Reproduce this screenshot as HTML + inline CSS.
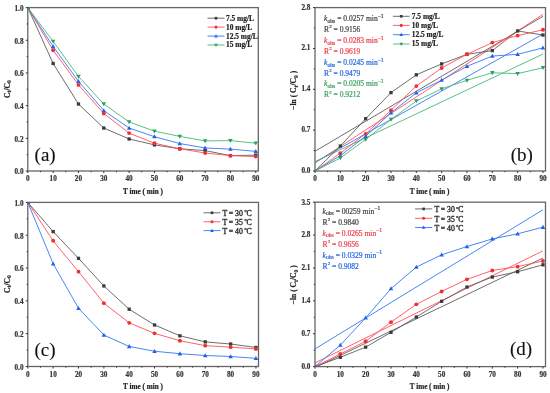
<!DOCTYPE html>
<html><head><meta charset="utf-8"><style>
html,body{margin:0;padding:0;background:#fff;width:550px;height:393px;overflow:hidden}
svg{display:block;filter:blur(0.45px)}
text{font-family:"Liberation Serif",serif}
.tl{font-size:7.2px;font-weight:bold;fill:#333;stroke:#333;stroke-width:0.2px}
.lg{font-size:7.4px;font-weight:bold;fill:#222;stroke:#222;stroke-width:0.2px}
.an{font-size:7.55px;stroke-width:0.22px}
.sup{font-size:5.6px}
.sub{font-size:5.6px}
.sup2{font-size:4.9px}
.lgt{font-weight:normal;font-size:7.8px;stroke-width:0.3px}
.deg{font-size:4.2px;font-weight:normal}
.pl{font-size:19px;fill:#111;stroke:#111;stroke-width:0.12px}
.at{font-size:7.2px;font-weight:bold;fill:#222;stroke:#222;stroke-width:0.2px}
.yt{font-size:7.6px}
</style></head><body>
<svg width="550" height="393" viewBox="0 0 550 393">
<rect width="550" height="393" fill="#fff"/>
<defs><clipPath id="cA"><rect x="27.80" y="7.60" width="230.50" height="163.40"/></clipPath><clipPath id="cB"><rect x="315.00" y="7.60" width="230.50" height="163.40"/></clipPath><clipPath id="cC"><rect x="27.80" y="202.40" width="230.70" height="164.10"/></clipPath><clipPath id="cD"><rect x="315.00" y="202.20" width="230.50" height="164.40"/></clipPath></defs>
<rect x="27.80" y="7.60" width="230.50" height="163.40" fill="none" stroke="#666666" stroke-width="1.3"/>
<line x1="27.80" y1="171.00" x2="27.80" y2="173.00" stroke="#333" stroke-width="1"/>
<line x1="40.46" y1="171.00" x2="40.46" y2="172.20" stroke="#333" stroke-width="1"/>
<line x1="53.13" y1="171.00" x2="53.13" y2="173.00" stroke="#333" stroke-width="1"/>
<line x1="65.79" y1="171.00" x2="65.79" y2="172.20" stroke="#333" stroke-width="1"/>
<line x1="78.46" y1="171.00" x2="78.46" y2="173.00" stroke="#333" stroke-width="1"/>
<line x1="91.12" y1="171.00" x2="91.12" y2="172.20" stroke="#333" stroke-width="1"/>
<line x1="103.79" y1="171.00" x2="103.79" y2="173.00" stroke="#333" stroke-width="1"/>
<line x1="116.45" y1="171.00" x2="116.45" y2="172.20" stroke="#333" stroke-width="1"/>
<line x1="129.12" y1="171.00" x2="129.12" y2="173.00" stroke="#333" stroke-width="1"/>
<line x1="141.78" y1="171.00" x2="141.78" y2="172.20" stroke="#333" stroke-width="1"/>
<line x1="154.45" y1="171.00" x2="154.45" y2="173.00" stroke="#333" stroke-width="1"/>
<line x1="167.11" y1="171.00" x2="167.11" y2="172.20" stroke="#333" stroke-width="1"/>
<line x1="179.78" y1="171.00" x2="179.78" y2="173.00" stroke="#333" stroke-width="1"/>
<line x1="192.44" y1="171.00" x2="192.44" y2="172.20" stroke="#333" stroke-width="1"/>
<line x1="205.11" y1="171.00" x2="205.11" y2="173.00" stroke="#333" stroke-width="1"/>
<line x1="217.77" y1="171.00" x2="217.77" y2="172.20" stroke="#333" stroke-width="1"/>
<line x1="230.44" y1="171.00" x2="230.44" y2="173.00" stroke="#333" stroke-width="1"/>
<line x1="243.10" y1="171.00" x2="243.10" y2="172.20" stroke="#333" stroke-width="1"/>
<line x1="255.77" y1="171.00" x2="255.77" y2="173.00" stroke="#333" stroke-width="1"/>
<text x="27.80" y="180.60" class="tl" text-anchor="middle">0</text>
<text x="53.13" y="180.60" class="tl" text-anchor="middle">10</text>
<text x="78.46" y="180.60" class="tl" text-anchor="middle">20</text>
<text x="103.79" y="180.60" class="tl" text-anchor="middle">30</text>
<text x="129.12" y="180.60" class="tl" text-anchor="middle">40</text>
<text x="154.45" y="180.60" class="tl" text-anchor="middle">50</text>
<text x="179.78" y="180.60" class="tl" text-anchor="middle">60</text>
<text x="205.11" y="180.60" class="tl" text-anchor="middle">70</text>
<text x="230.44" y="180.60" class="tl" text-anchor="middle">80</text>
<text x="255.77" y="180.60" class="tl" text-anchor="middle">90</text>
<line x1="27.80" y1="171.00" x2="25.80" y2="171.00" stroke="#333" stroke-width="1"/>
<text x="23.50" y="174.30" class="tl" text-anchor="end">0.0</text>
<line x1="27.80" y1="138.32" x2="25.80" y2="138.32" stroke="#333" stroke-width="1"/>
<text x="23.50" y="141.62" class="tl" text-anchor="end">0.2</text>
<line x1="27.80" y1="105.64" x2="25.80" y2="105.64" stroke="#333" stroke-width="1"/>
<text x="23.50" y="108.94" class="tl" text-anchor="end">0.4</text>
<line x1="27.80" y1="72.96" x2="25.80" y2="72.96" stroke="#333" stroke-width="1"/>
<text x="23.50" y="76.26" class="tl" text-anchor="end">0.6</text>
<line x1="27.80" y1="40.28" x2="25.80" y2="40.28" stroke="#333" stroke-width="1"/>
<text x="23.50" y="43.58" class="tl" text-anchor="end">0.8</text>
<line x1="27.80" y1="7.60" x2="25.80" y2="7.60" stroke="#333" stroke-width="1"/>
<text x="23.50" y="10.90" class="tl" text-anchor="end">1.0</text>
<line x1="27.80" y1="154.66" x2="26.60" y2="154.66" stroke="#333" stroke-width="1"/>
<line x1="27.80" y1="121.98" x2="26.60" y2="121.98" stroke="#333" stroke-width="1"/>
<line x1="27.80" y1="89.30" x2="26.60" y2="89.30" stroke="#333" stroke-width="1"/>
<line x1="27.80" y1="56.62" x2="26.60" y2="56.62" stroke="#333" stroke-width="1"/>
<line x1="27.80" y1="23.94" x2="26.60" y2="23.94" stroke="#333" stroke-width="1"/>
<rect x="27.80" y="202.40" width="230.70" height="164.10" fill="none" stroke="#666666" stroke-width="1.3"/>
<line x1="27.80" y1="366.50" x2="27.80" y2="368.50" stroke="#333" stroke-width="1"/>
<line x1="40.48" y1="366.50" x2="40.48" y2="367.70" stroke="#333" stroke-width="1"/>
<line x1="53.15" y1="366.50" x2="53.15" y2="368.50" stroke="#333" stroke-width="1"/>
<line x1="65.83" y1="366.50" x2="65.83" y2="367.70" stroke="#333" stroke-width="1"/>
<line x1="78.50" y1="366.50" x2="78.50" y2="368.50" stroke="#333" stroke-width="1"/>
<line x1="91.18" y1="366.50" x2="91.18" y2="367.70" stroke="#333" stroke-width="1"/>
<line x1="103.85" y1="366.50" x2="103.85" y2="368.50" stroke="#333" stroke-width="1"/>
<line x1="116.53" y1="366.50" x2="116.53" y2="367.70" stroke="#333" stroke-width="1"/>
<line x1="129.21" y1="366.50" x2="129.21" y2="368.50" stroke="#333" stroke-width="1"/>
<line x1="141.88" y1="366.50" x2="141.88" y2="367.70" stroke="#333" stroke-width="1"/>
<line x1="154.56" y1="366.50" x2="154.56" y2="368.50" stroke="#333" stroke-width="1"/>
<line x1="167.23" y1="366.50" x2="167.23" y2="367.70" stroke="#333" stroke-width="1"/>
<line x1="179.91" y1="366.50" x2="179.91" y2="368.50" stroke="#333" stroke-width="1"/>
<line x1="192.59" y1="366.50" x2="192.59" y2="367.70" stroke="#333" stroke-width="1"/>
<line x1="205.26" y1="366.50" x2="205.26" y2="368.50" stroke="#333" stroke-width="1"/>
<line x1="217.94" y1="366.50" x2="217.94" y2="367.70" stroke="#333" stroke-width="1"/>
<line x1="230.61" y1="366.50" x2="230.61" y2="368.50" stroke="#333" stroke-width="1"/>
<line x1="243.29" y1="366.50" x2="243.29" y2="367.70" stroke="#333" stroke-width="1"/>
<line x1="255.96" y1="366.50" x2="255.96" y2="368.50" stroke="#333" stroke-width="1"/>
<text x="27.80" y="376.60" class="tl" text-anchor="middle">0</text>
<text x="53.15" y="376.60" class="tl" text-anchor="middle">10</text>
<text x="78.50" y="376.60" class="tl" text-anchor="middle">20</text>
<text x="103.85" y="376.60" class="tl" text-anchor="middle">30</text>
<text x="129.21" y="376.60" class="tl" text-anchor="middle">40</text>
<text x="154.56" y="376.60" class="tl" text-anchor="middle">50</text>
<text x="179.91" y="376.60" class="tl" text-anchor="middle">60</text>
<text x="205.26" y="376.60" class="tl" text-anchor="middle">70</text>
<text x="230.61" y="376.60" class="tl" text-anchor="middle">80</text>
<text x="255.96" y="376.60" class="tl" text-anchor="middle">90</text>
<line x1="27.80" y1="366.50" x2="25.80" y2="366.50" stroke="#333" stroke-width="1"/>
<text x="23.50" y="369.80" class="tl" text-anchor="end">0.0</text>
<line x1="27.80" y1="333.68" x2="25.80" y2="333.68" stroke="#333" stroke-width="1"/>
<text x="23.50" y="336.98" class="tl" text-anchor="end">0.2</text>
<line x1="27.80" y1="300.86" x2="25.80" y2="300.86" stroke="#333" stroke-width="1"/>
<text x="23.50" y="304.16" class="tl" text-anchor="end">0.4</text>
<line x1="27.80" y1="268.04" x2="25.80" y2="268.04" stroke="#333" stroke-width="1"/>
<text x="23.50" y="271.34" class="tl" text-anchor="end">0.6</text>
<line x1="27.80" y1="235.22" x2="25.80" y2="235.22" stroke="#333" stroke-width="1"/>
<text x="23.50" y="238.52" class="tl" text-anchor="end">0.8</text>
<line x1="27.80" y1="202.40" x2="25.80" y2="202.40" stroke="#333" stroke-width="1"/>
<text x="23.50" y="205.70" class="tl" text-anchor="end">1.0</text>
<line x1="27.80" y1="350.09" x2="26.60" y2="350.09" stroke="#333" stroke-width="1"/>
<line x1="27.80" y1="317.27" x2="26.60" y2="317.27" stroke="#333" stroke-width="1"/>
<line x1="27.80" y1="284.45" x2="26.60" y2="284.45" stroke="#333" stroke-width="1"/>
<line x1="27.80" y1="251.63" x2="26.60" y2="251.63" stroke="#333" stroke-width="1"/>
<line x1="27.80" y1="218.81" x2="26.60" y2="218.81" stroke="#333" stroke-width="1"/>
<rect x="315.00" y="7.60" width="230.50" height="163.40" fill="none" stroke="#666666" stroke-width="1.3"/>
<line x1="315.00" y1="171.00" x2="315.00" y2="173.00" stroke="#333" stroke-width="1"/>
<line x1="327.66" y1="171.00" x2="327.66" y2="172.20" stroke="#333" stroke-width="1"/>
<line x1="340.33" y1="171.00" x2="340.33" y2="173.00" stroke="#333" stroke-width="1"/>
<line x1="352.99" y1="171.00" x2="352.99" y2="172.20" stroke="#333" stroke-width="1"/>
<line x1="365.66" y1="171.00" x2="365.66" y2="173.00" stroke="#333" stroke-width="1"/>
<line x1="378.32" y1="171.00" x2="378.32" y2="172.20" stroke="#333" stroke-width="1"/>
<line x1="390.99" y1="171.00" x2="390.99" y2="173.00" stroke="#333" stroke-width="1"/>
<line x1="403.65" y1="171.00" x2="403.65" y2="172.20" stroke="#333" stroke-width="1"/>
<line x1="416.32" y1="171.00" x2="416.32" y2="173.00" stroke="#333" stroke-width="1"/>
<line x1="428.98" y1="171.00" x2="428.98" y2="172.20" stroke="#333" stroke-width="1"/>
<line x1="441.65" y1="171.00" x2="441.65" y2="173.00" stroke="#333" stroke-width="1"/>
<line x1="454.31" y1="171.00" x2="454.31" y2="172.20" stroke="#333" stroke-width="1"/>
<line x1="466.98" y1="171.00" x2="466.98" y2="173.00" stroke="#333" stroke-width="1"/>
<line x1="479.64" y1="171.00" x2="479.64" y2="172.20" stroke="#333" stroke-width="1"/>
<line x1="492.31" y1="171.00" x2="492.31" y2="173.00" stroke="#333" stroke-width="1"/>
<line x1="504.97" y1="171.00" x2="504.97" y2="172.20" stroke="#333" stroke-width="1"/>
<line x1="517.64" y1="171.00" x2="517.64" y2="173.00" stroke="#333" stroke-width="1"/>
<line x1="530.30" y1="171.00" x2="530.30" y2="172.20" stroke="#333" stroke-width="1"/>
<line x1="542.97" y1="171.00" x2="542.97" y2="173.00" stroke="#333" stroke-width="1"/>
<text x="315.00" y="180.60" class="tl" text-anchor="middle">0</text>
<text x="340.33" y="180.60" class="tl" text-anchor="middle">10</text>
<text x="365.66" y="180.60" class="tl" text-anchor="middle">20</text>
<text x="390.99" y="180.60" class="tl" text-anchor="middle">30</text>
<text x="416.32" y="180.60" class="tl" text-anchor="middle">40</text>
<text x="441.65" y="180.60" class="tl" text-anchor="middle">50</text>
<text x="466.98" y="180.60" class="tl" text-anchor="middle">60</text>
<text x="492.31" y="180.60" class="tl" text-anchor="middle">70</text>
<text x="517.64" y="180.60" class="tl" text-anchor="middle">80</text>
<text x="542.97" y="180.60" class="tl" text-anchor="middle">90</text>
<line x1="315.00" y1="171.00" x2="313.00" y2="171.00" stroke="#333" stroke-width="1"/>
<text x="310.40" y="173.00" class="tl" text-anchor="end">0.0</text>
<line x1="315.00" y1="130.15" x2="313.00" y2="130.15" stroke="#333" stroke-width="1"/>
<text x="310.40" y="132.15" class="tl" text-anchor="end">0.7</text>
<line x1="315.00" y1="89.30" x2="313.00" y2="89.30" stroke="#333" stroke-width="1"/>
<text x="310.40" y="91.30" class="tl" text-anchor="end">1.4</text>
<line x1="315.00" y1="48.45" x2="313.00" y2="48.45" stroke="#333" stroke-width="1"/>
<text x="310.40" y="50.45" class="tl" text-anchor="end">2.1</text>
<line x1="315.00" y1="7.60" x2="313.00" y2="7.60" stroke="#333" stroke-width="1"/>
<text x="310.40" y="9.60" class="tl" text-anchor="end">2.8</text>
<line x1="315.00" y1="150.57" x2="313.80" y2="150.57" stroke="#333" stroke-width="1"/>
<line x1="315.00" y1="109.72" x2="313.80" y2="109.72" stroke="#333" stroke-width="1"/>
<line x1="315.00" y1="68.88" x2="313.80" y2="68.88" stroke="#333" stroke-width="1"/>
<line x1="315.00" y1="28.02" x2="313.80" y2="28.02" stroke="#333" stroke-width="1"/>
<rect x="315.00" y="202.20" width="230.50" height="164.40" fill="none" stroke="#666666" stroke-width="1.3"/>
<line x1="315.00" y1="366.60" x2="315.00" y2="368.60" stroke="#333" stroke-width="1"/>
<line x1="327.66" y1="366.60" x2="327.66" y2="367.80" stroke="#333" stroke-width="1"/>
<line x1="340.33" y1="366.60" x2="340.33" y2="368.60" stroke="#333" stroke-width="1"/>
<line x1="352.99" y1="366.60" x2="352.99" y2="367.80" stroke="#333" stroke-width="1"/>
<line x1="365.66" y1="366.60" x2="365.66" y2="368.60" stroke="#333" stroke-width="1"/>
<line x1="378.32" y1="366.60" x2="378.32" y2="367.80" stroke="#333" stroke-width="1"/>
<line x1="390.99" y1="366.60" x2="390.99" y2="368.60" stroke="#333" stroke-width="1"/>
<line x1="403.65" y1="366.60" x2="403.65" y2="367.80" stroke="#333" stroke-width="1"/>
<line x1="416.32" y1="366.60" x2="416.32" y2="368.60" stroke="#333" stroke-width="1"/>
<line x1="428.98" y1="366.60" x2="428.98" y2="367.80" stroke="#333" stroke-width="1"/>
<line x1="441.65" y1="366.60" x2="441.65" y2="368.60" stroke="#333" stroke-width="1"/>
<line x1="454.31" y1="366.60" x2="454.31" y2="367.80" stroke="#333" stroke-width="1"/>
<line x1="466.98" y1="366.60" x2="466.98" y2="368.60" stroke="#333" stroke-width="1"/>
<line x1="479.64" y1="366.60" x2="479.64" y2="367.80" stroke="#333" stroke-width="1"/>
<line x1="492.31" y1="366.60" x2="492.31" y2="368.60" stroke="#333" stroke-width="1"/>
<line x1="504.97" y1="366.60" x2="504.97" y2="367.80" stroke="#333" stroke-width="1"/>
<line x1="517.64" y1="366.60" x2="517.64" y2="368.60" stroke="#333" stroke-width="1"/>
<line x1="530.30" y1="366.60" x2="530.30" y2="367.80" stroke="#333" stroke-width="1"/>
<line x1="542.97" y1="366.60" x2="542.97" y2="368.60" stroke="#333" stroke-width="1"/>
<text x="315.00" y="376.60" class="tl" text-anchor="middle">0</text>
<text x="340.33" y="376.60" class="tl" text-anchor="middle">10</text>
<text x="365.66" y="376.60" class="tl" text-anchor="middle">20</text>
<text x="390.99" y="376.60" class="tl" text-anchor="middle">30</text>
<text x="416.32" y="376.60" class="tl" text-anchor="middle">40</text>
<text x="441.65" y="376.60" class="tl" text-anchor="middle">50</text>
<text x="466.98" y="376.60" class="tl" text-anchor="middle">60</text>
<text x="492.31" y="376.60" class="tl" text-anchor="middle">70</text>
<text x="517.64" y="376.60" class="tl" text-anchor="middle">80</text>
<text x="542.97" y="376.60" class="tl" text-anchor="middle">90</text>
<line x1="315.00" y1="366.60" x2="313.00" y2="366.60" stroke="#333" stroke-width="1"/>
<text x="310.40" y="368.90" class="tl" text-anchor="end">0.0</text>
<line x1="315.00" y1="333.72" x2="313.00" y2="333.72" stroke="#333" stroke-width="1"/>
<text x="310.40" y="336.02" class="tl" text-anchor="end">0.7</text>
<line x1="315.00" y1="300.84" x2="313.00" y2="300.84" stroke="#333" stroke-width="1"/>
<text x="310.40" y="303.14" class="tl" text-anchor="end">1.4</text>
<line x1="315.00" y1="267.96" x2="313.00" y2="267.96" stroke="#333" stroke-width="1"/>
<text x="310.40" y="270.26" class="tl" text-anchor="end">2.1</text>
<line x1="315.00" y1="235.08" x2="313.00" y2="235.08" stroke="#333" stroke-width="1"/>
<text x="310.40" y="237.38" class="tl" text-anchor="end">2.8</text>
<line x1="315.00" y1="202.20" x2="313.00" y2="202.20" stroke="#333" stroke-width="1"/>
<text x="310.40" y="204.50" class="tl" text-anchor="end">3.5</text>
<line x1="315.00" y1="350.16" x2="313.80" y2="350.16" stroke="#333" stroke-width="1"/>
<line x1="315.00" y1="317.28" x2="313.80" y2="317.28" stroke="#333" stroke-width="1"/>
<line x1="315.00" y1="284.40" x2="313.80" y2="284.40" stroke="#333" stroke-width="1"/>
<line x1="315.00" y1="251.52" x2="313.80" y2="251.52" stroke="#333" stroke-width="1"/>
<line x1="315.00" y1="218.64" x2="313.80" y2="218.64" stroke="#333" stroke-width="1"/>
<g clip-path="url(#cA)">
<polyline points="27.80,7.60 53.13,63.48 78.46,104.01 103.79,128.03 129.12,138.97 154.45,144.86 179.78,148.78 205.11,150.57 230.44,155.64 255.77,155.15" fill="none" stroke="#5c5c5c" stroke-width="0.9" stroke-linejoin="round"/>
<rect x="26.15" y="5.95" width="3.30" height="3.30" fill="#3a3a3a"/>
<rect x="51.48" y="61.83" width="3.30" height="3.30" fill="#3a3a3a"/>
<rect x="76.81" y="102.36" width="3.30" height="3.30" fill="#3a3a3a"/>
<rect x="102.14" y="126.38" width="3.30" height="3.30" fill="#3a3a3a"/>
<rect x="127.47" y="137.32" width="3.30" height="3.30" fill="#3a3a3a"/>
<rect x="152.80" y="143.21" width="3.30" height="3.30" fill="#3a3a3a"/>
<rect x="178.13" y="147.13" width="3.30" height="3.30" fill="#3a3a3a"/>
<rect x="203.46" y="148.92" width="3.30" height="3.30" fill="#3a3a3a"/>
<rect x="228.79" y="153.99" width="3.30" height="3.30" fill="#3a3a3a"/>
<rect x="254.12" y="153.50" width="3.30" height="3.30" fill="#3a3a3a"/>
<polyline points="27.80,7.60 53.13,50.25 78.46,84.89 103.79,113.48 129.12,133.09 154.45,143.22 179.78,148.78 205.11,153.03 230.44,155.64 255.77,156.62" fill="none" stroke="#ff5058" stroke-width="0.9" stroke-linejoin="round"/>
<circle cx="27.80" cy="7.60" r="1.95" fill="#f03030"/>
<circle cx="53.13" cy="50.25" r="1.95" fill="#f03030"/>
<circle cx="78.46" cy="84.89" r="1.95" fill="#f03030"/>
<circle cx="103.79" cy="113.48" r="1.95" fill="#f03030"/>
<circle cx="129.12" cy="133.09" r="1.95" fill="#f03030"/>
<circle cx="154.45" cy="143.22" r="1.95" fill="#f03030"/>
<circle cx="179.78" cy="148.78" r="1.95" fill="#f03030"/>
<circle cx="205.11" cy="153.03" r="1.95" fill="#f03030"/>
<circle cx="230.44" cy="155.64" r="1.95" fill="#f03030"/>
<circle cx="255.77" cy="156.62" r="1.95" fill="#f03030"/>
<polyline points="27.80,7.60 53.13,46.49 78.46,81.29 103.79,110.54 129.12,128.03 154.45,136.69 179.78,143.55 205.11,147.96 230.44,149.10 255.77,151.39" fill="none" stroke="#3478f2" stroke-width="0.9" stroke-linejoin="round"/>
<path d="M27.80 5.24L30.05 9.29L25.55 9.29Z" fill="#2060f0"/>
<path d="M53.13 44.13L55.38 48.18L50.88 48.18Z" fill="#2060f0"/>
<path d="M78.46 78.93L80.71 82.98L76.21 82.98Z" fill="#2060f0"/>
<path d="M103.79 108.18L106.04 112.23L101.54 112.23Z" fill="#2060f0"/>
<path d="M129.12 125.66L131.37 129.71L126.87 129.71Z" fill="#2060f0"/>
<path d="M154.45 134.32L156.70 138.37L152.20 138.37Z" fill="#2060f0"/>
<path d="M179.78 141.19L182.03 145.24L177.53 145.24Z" fill="#2060f0"/>
<path d="M205.11 145.60L207.36 149.65L202.86 149.65Z" fill="#2060f0"/>
<path d="M230.44 146.74L232.69 150.79L228.19 150.79Z" fill="#2060f0"/>
<path d="M255.77 149.03L258.02 153.08L253.52 153.08Z" fill="#2060f0"/>
<polyline points="27.80,7.60 53.13,41.42 78.46,76.39 103.79,104.01 129.12,121.98 154.45,131.13 179.78,136.36 205.11,140.93 230.44,140.61 255.77,143.22" fill="none" stroke="#48b878" stroke-width="0.9" stroke-linejoin="round"/>
<path d="M27.80 9.96L30.05 5.91L25.55 5.91Z" fill="#2aa060"/>
<path d="M53.13 43.79L55.38 39.74L50.88 39.74Z" fill="#2aa060"/>
<path d="M78.46 78.75L80.71 74.70L76.21 74.70Z" fill="#2aa060"/>
<path d="M103.79 106.37L106.04 102.32L101.54 102.32Z" fill="#2aa060"/>
<path d="M129.12 124.34L131.37 120.29L126.87 120.29Z" fill="#2aa060"/>
<path d="M154.45 133.49L156.70 129.44L152.20 129.44Z" fill="#2aa060"/>
<path d="M179.78 138.72L182.03 134.67L177.53 134.67Z" fill="#2aa060"/>
<path d="M205.11 143.30L207.36 139.25L202.86 139.25Z" fill="#2aa060"/>
<path d="M230.44 142.97L232.69 138.92L228.19 138.92Z" fill="#2aa060"/>
<path d="M255.77 145.58L258.02 141.53L253.52 141.53Z" fill="#2aa060"/>
</g>
<g clip-path="url(#cB)">
<line x1="315.00" y1="151.28" x2="542.97" y2="16.30" stroke="#5c5c5c" stroke-width="0.9"/>
<line x1="315.00" y1="163.01" x2="542.97" y2="14.37" stroke="#ff5058" stroke-width="0.9"/>
<line x1="315.00" y1="162.25" x2="542.97" y2="34.09" stroke="#3478f2" stroke-width="0.9"/>
<line x1="315.00" y1="161.72" x2="542.97" y2="54.05" stroke="#48b878" stroke-width="0.9"/>
<polyline points="315.00,171.00 340.33,146.02 365.66,118.71 390.99,92.63 416.32,74.83 441.65,63.91 466.98,54.29 492.31,50.61 517.64,30.94 542.97,35.03" fill="none" stroke="#5c5c5c" stroke-width="0.9" stroke-linejoin="round"/>
<rect x="313.35" y="169.35" width="3.30" height="3.30" fill="#3a3a3a"/>
<rect x="338.68" y="144.37" width="3.30" height="3.30" fill="#3a3a3a"/>
<rect x="364.01" y="117.06" width="3.30" height="3.30" fill="#3a3a3a"/>
<rect x="389.34" y="90.98" width="3.30" height="3.30" fill="#3a3a3a"/>
<rect x="414.67" y="73.18" width="3.30" height="3.30" fill="#3a3a3a"/>
<rect x="440.00" y="62.26" width="3.30" height="3.30" fill="#3a3a3a"/>
<rect x="465.33" y="52.64" width="3.30" height="3.30" fill="#3a3a3a"/>
<rect x="490.66" y="48.96" width="3.30" height="3.30" fill="#3a3a3a"/>
<rect x="515.99" y="29.29" width="3.30" height="3.30" fill="#3a3a3a"/>
<rect x="541.32" y="33.38" width="3.30" height="3.30" fill="#3a3a3a"/>
<polyline points="315.00,171.00 340.33,153.20 365.66,133.83 390.99,110.31 416.32,86.09 441.65,68.00 466.98,54.29 492.31,42.61 517.64,35.61 542.97,29.78" fill="none" stroke="#ff5058" stroke-width="0.9" stroke-linejoin="round"/>
<circle cx="315.00" cy="171.00" r="1.95" fill="#f03030"/>
<circle cx="340.33" cy="153.20" r="1.95" fill="#f03030"/>
<circle cx="365.66" cy="133.83" r="1.95" fill="#f03030"/>
<circle cx="390.99" cy="110.31" r="1.95" fill="#f03030"/>
<circle cx="416.32" cy="86.09" r="1.95" fill="#f03030"/>
<circle cx="441.65" cy="68.00" r="1.95" fill="#f03030"/>
<circle cx="466.98" cy="54.29" r="1.95" fill="#f03030"/>
<circle cx="492.31" cy="42.61" r="1.95" fill="#f03030"/>
<circle cx="517.64" cy="35.61" r="1.95" fill="#f03030"/>
<circle cx="542.97" cy="29.78" r="1.95" fill="#f03030"/>
<polyline points="315.00,171.00 340.33,155.65 365.66,136.28 390.99,112.76 416.32,92.92 441.65,80.14 466.98,66.31 492.31,56.09 517.64,54.29 542.97,47.87" fill="none" stroke="#3478f2" stroke-width="0.9" stroke-linejoin="round"/>
<path d="M315.00 168.64L317.25 172.69L312.75 172.69Z" fill="#2060f0"/>
<path d="M340.33 153.29L342.58 157.34L338.08 157.34Z" fill="#2060f0"/>
<path d="M365.66 133.91L367.91 137.97L363.41 137.97Z" fill="#2060f0"/>
<path d="M390.99 110.40L393.24 114.45L388.74 114.45Z" fill="#2060f0"/>
<path d="M416.32 90.56L418.57 94.61L414.07 94.61Z" fill="#2060f0"/>
<path d="M441.65 77.78L443.90 81.83L439.40 81.83Z" fill="#2060f0"/>
<path d="M466.98 63.94L469.23 67.99L464.73 67.99Z" fill="#2060f0"/>
<path d="M492.31 53.73L494.56 57.78L490.06 57.78Z" fill="#2060f0"/>
<path d="M517.64 51.92L519.89 55.97L515.39 55.97Z" fill="#2060f0"/>
<path d="M542.97 45.50L545.22 49.55L540.72 49.55Z" fill="#2060f0"/>
<polyline points="315.00,171.00 340.33,157.99 365.66,139.49 390.99,119.41 416.32,100.97 441.65,88.83 466.98,80.31 492.31,72.78 517.64,73.60 542.97,67.71" fill="none" stroke="#48b878" stroke-width="0.9" stroke-linejoin="round"/>
<path d="M315.00 173.36L317.25 169.31L312.75 169.31Z" fill="#2aa060"/>
<path d="M340.33 160.35L342.58 156.30L338.08 156.30Z" fill="#2aa060"/>
<path d="M365.66 141.85L367.91 137.80L363.41 137.80Z" fill="#2aa060"/>
<path d="M390.99 121.77L393.24 117.72L388.74 117.72Z" fill="#2aa060"/>
<path d="M416.32 103.33L418.57 99.28L414.07 99.28Z" fill="#2aa060"/>
<path d="M441.65 91.20L443.90 87.15L439.40 87.15Z" fill="#2aa060"/>
<path d="M466.98 82.68L469.23 78.63L464.73 78.63Z" fill="#2aa060"/>
<path d="M492.31 75.15L494.56 71.10L490.06 71.10Z" fill="#2aa060"/>
<path d="M517.64 75.96L519.89 71.91L515.39 71.91Z" fill="#2aa060"/>
<path d="M542.97 70.07L545.22 66.02L540.72 66.02Z" fill="#2aa060"/>
</g>
<g clip-path="url(#cC)">
<polyline points="27.80,202.40 53.15,231.61 78.50,258.36 103.85,285.93 129.21,309.23 154.56,324.98 179.91,335.81 205.26,341.88 230.61,344.02 255.96,347.46" fill="none" stroke="#5c5c5c" stroke-width="0.9" stroke-linejoin="round"/>
<rect x="26.15" y="200.75" width="3.30" height="3.30" fill="#3a3a3a"/>
<rect x="51.50" y="229.96" width="3.30" height="3.30" fill="#3a3a3a"/>
<rect x="76.85" y="256.71" width="3.30" height="3.30" fill="#3a3a3a"/>
<rect x="102.20" y="284.28" width="3.30" height="3.30" fill="#3a3a3a"/>
<rect x="127.56" y="307.58" width="3.30" height="3.30" fill="#3a3a3a"/>
<rect x="152.91" y="323.33" width="3.30" height="3.30" fill="#3a3a3a"/>
<rect x="178.26" y="334.16" width="3.30" height="3.30" fill="#3a3a3a"/>
<rect x="203.61" y="340.24" width="3.30" height="3.30" fill="#3a3a3a"/>
<rect x="228.96" y="342.37" width="3.30" height="3.30" fill="#3a3a3a"/>
<rect x="254.31" y="345.81" width="3.30" height="3.30" fill="#3a3a3a"/>
<polyline points="27.80,202.40 53.15,240.80 78.50,271.65 103.85,303.16 129.21,322.85 154.56,333.35 179.91,340.74 205.26,345.66 230.61,347.14 255.96,348.94" fill="none" stroke="#ff5058" stroke-width="0.9" stroke-linejoin="round"/>
<circle cx="27.80" cy="202.40" r="1.95" fill="#f03030"/>
<circle cx="53.15" cy="240.80" r="1.95" fill="#f03030"/>
<circle cx="78.50" cy="271.65" r="1.95" fill="#f03030"/>
<circle cx="103.85" cy="303.16" r="1.95" fill="#f03030"/>
<circle cx="129.21" cy="322.85" r="1.95" fill="#f03030"/>
<circle cx="154.56" cy="333.35" r="1.95" fill="#f03030"/>
<circle cx="179.91" cy="340.74" r="1.95" fill="#f03030"/>
<circle cx="205.26" cy="345.66" r="1.95" fill="#f03030"/>
<circle cx="230.61" cy="347.14" r="1.95" fill="#f03030"/>
<circle cx="255.96" cy="348.94" r="1.95" fill="#f03030"/>
<polyline points="27.80,202.40 53.15,263.77 78.50,308.24 103.85,334.99 129.21,346.48 154.56,351.24 179.91,353.70 205.26,355.51 230.61,356.49 255.96,358.30" fill="none" stroke="#3478f2" stroke-width="0.9" stroke-linejoin="round"/>
<path d="M27.80 200.04L30.05 204.09L25.55 204.09Z" fill="#2060f0"/>
<path d="M53.15 261.41L55.40 265.46L50.90 265.46Z" fill="#2060f0"/>
<path d="M78.50 305.88L80.75 309.93L76.25 309.93Z" fill="#2060f0"/>
<path d="M103.85 332.63L106.10 336.68L101.60 336.68Z" fill="#2060f0"/>
<path d="M129.21 344.12L131.46 348.17L126.96 348.17Z" fill="#2060f0"/>
<path d="M154.56 348.88L156.81 352.93L152.31 352.93Z" fill="#2060f0"/>
<path d="M179.91 351.34L182.16 355.39L177.66 355.39Z" fill="#2060f0"/>
<path d="M205.26 353.14L207.51 357.19L203.01 357.19Z" fill="#2060f0"/>
<path d="M230.61 354.13L232.86 358.18L228.36 358.18Z" fill="#2060f0"/>
<path d="M255.96 355.93L258.21 359.98L253.71 359.98Z" fill="#2060f0"/>
</g>
<g clip-path="url(#cD)">
<line x1="315.00" y1="367.54" x2="542.97" y2="258.05" stroke="#5c5c5c" stroke-width="0.9"/>
<line x1="315.00" y1="362.89" x2="542.97" y2="250.86" stroke="#ff5058" stroke-width="0.9"/>
<line x1="315.00" y1="348.89" x2="542.97" y2="209.81" stroke="#3478f2" stroke-width="0.9"/>
<polyline points="315.00,366.60 340.33,357.30 365.66,347.11 390.99,332.36 416.32,317.05 441.65,301.31 466.98,287.03 492.31,277.03 517.64,271.72 542.97,264.81" fill="none" stroke="#5c5c5c" stroke-width="0.9" stroke-linejoin="round"/>
<rect x="313.35" y="364.95" width="3.30" height="3.30" fill="#3a3a3a"/>
<rect x="338.68" y="355.65" width="3.30" height="3.30" fill="#3a3a3a"/>
<rect x="364.01" y="345.46" width="3.30" height="3.30" fill="#3a3a3a"/>
<rect x="389.34" y="330.71" width="3.30" height="3.30" fill="#3a3a3a"/>
<rect x="414.67" y="315.40" width="3.30" height="3.30" fill="#3a3a3a"/>
<rect x="440.00" y="299.66" width="3.30" height="3.30" fill="#3a3a3a"/>
<rect x="465.33" y="285.38" width="3.30" height="3.30" fill="#3a3a3a"/>
<rect x="490.66" y="275.38" width="3.30" height="3.30" fill="#3a3a3a"/>
<rect x="515.99" y="270.07" width="3.30" height="3.30" fill="#3a3a3a"/>
<rect x="541.32" y="263.16" width="3.30" height="3.30" fill="#3a3a3a"/>
<polyline points="315.00,366.60 340.33,354.01 365.66,341.28 390.99,322.17 416.32,304.36 441.65,291.45 466.98,279.33 492.31,270.45 517.64,266.64 542.97,261.01" fill="none" stroke="#ff5058" stroke-width="0.9" stroke-linejoin="round"/>
<circle cx="315.00" cy="366.60" r="1.95" fill="#f03030"/>
<circle cx="340.33" cy="354.01" r="1.95" fill="#f03030"/>
<circle cx="365.66" cy="341.28" r="1.95" fill="#f03030"/>
<circle cx="390.99" cy="322.17" r="1.95" fill="#f03030"/>
<circle cx="416.32" cy="304.36" r="1.95" fill="#f03030"/>
<circle cx="441.65" cy="291.45" r="1.95" fill="#f03030"/>
<circle cx="466.98" cy="279.33" r="1.95" fill="#f03030"/>
<circle cx="492.31" cy="270.45" r="1.95" fill="#f03030"/>
<circle cx="517.64" cy="266.64" r="1.95" fill="#f03030"/>
<circle cx="542.97" cy="261.01" r="1.95" fill="#f03030"/>
<polyline points="315.00,366.60 340.33,345.09 365.66,317.89 390.99,288.63 416.32,267.11 441.65,254.81 466.98,246.54 492.31,238.93 517.64,233.81 542.97,227.19" fill="none" stroke="#3478f2" stroke-width="0.9" stroke-linejoin="round"/>
<path d="M315.00 364.24L317.25 368.29L312.75 368.29Z" fill="#2060f0"/>
<path d="M340.33 342.72L342.58 346.77L338.08 346.77Z" fill="#2060f0"/>
<path d="M365.66 315.53L367.91 319.58L363.41 319.58Z" fill="#2060f0"/>
<path d="M390.99 286.26L393.24 290.31L388.74 290.31Z" fill="#2060f0"/>
<path d="M416.32 264.75L418.57 268.80L414.07 268.80Z" fill="#2060f0"/>
<path d="M441.65 252.45L443.90 256.50L439.40 256.50Z" fill="#2060f0"/>
<path d="M466.98 244.18L469.23 248.23L464.73 248.23Z" fill="#2060f0"/>
<path d="M492.31 236.57L494.56 240.62L490.06 240.62Z" fill="#2060f0"/>
<path d="M517.64 231.45L519.89 235.50L515.39 235.50Z" fill="#2060f0"/>
<path d="M542.97 224.83L545.22 228.88L540.72 228.88Z" fill="#2060f0"/>
</g>
<line x1="207.5" y1="18.20" x2="224.5" y2="18.20" stroke="#5c5c5c" stroke-width="0.9"/>
<rect x="214.68" y="16.88" width="2.64" height="2.64" fill="#3a3a3a"/>
<g transform="translate(226.0,20.60) scale(1,1.0)"><text x="0" y="0" class="lg">7.5 mg/L</text></g>
<line x1="207.5" y1="27.10" x2="224.5" y2="27.10" stroke="#ff5058" stroke-width="0.9"/>
<circle cx="216.00" cy="27.10" r="1.56" fill="#f03030"/>
<g transform="translate(226.0,29.50) scale(1,1.0)"><text x="0" y="0" class="lg">10 mg/L</text></g>
<line x1="207.5" y1="36.10" x2="224.5" y2="36.10" stroke="#3478f2" stroke-width="0.9"/>
<path d="M216.00 34.21L217.80 37.45L214.20 37.45Z" fill="#2060f0"/>
<g transform="translate(226.0,38.50) scale(1,1.0)"><text x="0" y="0" class="lg">12.5 mg/L</text></g>
<line x1="207.5" y1="45.00" x2="224.5" y2="45.00" stroke="#48b878" stroke-width="0.9"/>
<path d="M216.00 46.89L217.80 43.65L214.20 43.65Z" fill="#2aa060"/>
<g transform="translate(226.0,47.40) scale(1,1.0)"><text x="0" y="0" class="lg">15 mg/L</text></g>
<line x1="393.0" y1="16.30" x2="409.5" y2="16.30" stroke="#5c5c5c" stroke-width="0.9"/>
<rect x="399.93" y="14.98" width="2.64" height="2.64" fill="#3a3a3a"/>
<g transform="translate(411.8,18.70) scale(1,1.0)"><text x="0" y="0" class="lg">7.5 mg/L</text></g>
<line x1="393.0" y1="25.40" x2="409.5" y2="25.40" stroke="#ff5058" stroke-width="0.9"/>
<circle cx="401.25" cy="25.40" r="1.56" fill="#f03030"/>
<g transform="translate(411.8,27.80) scale(1,1.0)"><text x="0" y="0" class="lg">10 mg/L</text></g>
<line x1="393.0" y1="34.70" x2="409.5" y2="34.70" stroke="#3478f2" stroke-width="0.9"/>
<path d="M401.25 32.81L403.05 36.05L399.45 36.05Z" fill="#2060f0"/>
<g transform="translate(411.8,37.10) scale(1,1.0)"><text x="0" y="0" class="lg">12.5 mg/L</text></g>
<line x1="393.0" y1="44.00" x2="409.5" y2="44.00" stroke="#48b878" stroke-width="0.9"/>
<path d="M401.25 45.89L403.05 42.65L399.45 42.65Z" fill="#2aa060"/>
<g transform="translate(411.8,46.40) scale(1,1.0)"><text x="0" y="0" class="lg">15 mg/L</text></g>
<line x1="203.5" y1="212.80" x2="220.5" y2="212.80" stroke="#5c5c5c" stroke-width="0.9"/>
<rect x="210.68" y="211.48" width="2.64" height="2.64" fill="#3a3a3a"/>
<g transform="translate(222.5,215.80) scale(1,1.0)"><text x="0" y="0" class="lg lgt">T<tspan x="6.30">=</tspan><tspan x="12.60">30</tspan><tspan x="21.90" class="deg" dy="-3.6">o</tspan><tspan x="23.90" dy="3.6">C</tspan></text></g>
<line x1="203.5" y1="221.80" x2="220.5" y2="221.80" stroke="#ff5058" stroke-width="0.9"/>
<circle cx="212.00" cy="221.80" r="1.56" fill="#f03030"/>
<g transform="translate(222.5,224.80) scale(1,1.0)"><text x="0" y="0" class="lg lgt">T<tspan x="6.30">=</tspan><tspan x="12.60">35</tspan><tspan x="21.90" class="deg" dy="-3.6">o</tspan><tspan x="23.90" dy="3.6">C</tspan></text></g>
<line x1="203.5" y1="230.60" x2="220.5" y2="230.60" stroke="#3478f2" stroke-width="0.9"/>
<path d="M212.00 228.71L213.80 231.95L210.20 231.95Z" fill="#2060f0"/>
<g transform="translate(222.5,233.60) scale(1,1.0)"><text x="0" y="0" class="lg lgt">T<tspan x="6.30">=</tspan><tspan x="12.60">40</tspan><tspan x="21.90" class="deg" dy="-3.6">o</tspan><tspan x="23.90" dy="3.6">C</tspan></text></g>
<line x1="415.0" y1="208.90" x2="432.2" y2="208.90" stroke="#5c5c5c" stroke-width="0.9"/>
<rect x="422.28" y="207.58" width="2.64" height="2.64" fill="#3a3a3a"/>
<g transform="translate(434.4,212.10) scale(1,1.0)"><text x="0" y="0" class="lg lgt">T<tspan x="6.30">=</tspan><tspan x="12.60">30</tspan><tspan x="21.90" class="deg" dy="-3.6">o</tspan><tspan x="23.90" dy="3.6">C</tspan></text></g>
<line x1="415.0" y1="218.30" x2="432.2" y2="218.30" stroke="#ff5058" stroke-width="0.9"/>
<circle cx="423.60" cy="218.30" r="1.56" fill="#f03030"/>
<g transform="translate(434.4,221.50) scale(1,1.0)"><text x="0" y="0" class="lg lgt">T<tspan x="6.30">=</tspan><tspan x="12.60">35</tspan><tspan x="21.90" class="deg" dy="-3.6">o</tspan><tspan x="23.90" dy="3.6">C</tspan></text></g>
<line x1="415.0" y1="227.50" x2="432.2" y2="227.50" stroke="#3478f2" stroke-width="0.9"/>
<path d="M423.60 225.61L425.40 228.85L421.80 228.85Z" fill="#2060f0"/>
<g transform="translate(434.4,230.70) scale(1,1.0)"><text x="0" y="0" class="lg lgt">T<tspan x="6.30">=</tspan><tspan x="12.60">40</tspan><tspan x="21.90" class="deg" dy="-3.6">o</tspan><tspan x="23.90" dy="3.6">C</tspan></text></g>
<g transform="translate(324.1,21.10) scale(1.0,1.0)"><text x="0" y="0" class="an" fill="#484848" stroke="#484848"><tspan font-style="italic">k</tspan><tspan class="sub" dy="1.6">obs</tspan><tspan dy="-1.6"> = 0.0257 min</tspan><tspan class="sup" dy="-3.4">&#8722;1</tspan></text></g>
<g transform="translate(324.1,31.90) scale(1.0,1.0)"><text x="0" y="0" class="an" fill="#484848" stroke="#484848">R<tspan class="sup2" dy="-3.6">2</tspan><tspan dy="3.6"> = 0.9156</tspan></text></g>
<g transform="translate(324.1,42.90) scale(1.0,1.0)"><text x="0" y="0" class="an" fill="#ec4450" stroke="#ec4450"><tspan font-style="italic">k</tspan><tspan class="sub" dy="1.6">obs</tspan><tspan dy="-1.6"> = 0.0283 min</tspan><tspan class="sup" dy="-3.4">&#8722;1</tspan></text></g>
<g transform="translate(324.1,53.70) scale(1.0,1.0)"><text x="0" y="0" class="an" fill="#ec4450" stroke="#ec4450">R<tspan class="sup2" dy="-3.6">2</tspan><tspan dy="3.6"> = 0.9619</tspan></text></g>
<g transform="translate(324.1,64.90) scale(1.0,1.0)"><text x="0" y="0" class="an" fill="#2c6ae0" stroke="#2c6ae0"><tspan font-style="italic">k</tspan><tspan class="sub" dy="1.6">obs</tspan><tspan dy="-1.6"> = 0.0245 min</tspan><tspan class="sup" dy="-3.4">&#8722;1</tspan></text></g>
<g transform="translate(324.1,75.70) scale(1.0,1.0)"><text x="0" y="0" class="an" fill="#2c6ae0" stroke="#2c6ae0">R<tspan class="sup2" dy="-3.6">2</tspan><tspan dy="3.6"> = 0.9479</tspan></text></g>
<g transform="translate(324.1,86.40) scale(1.0,1.0)"><text x="0" y="0" class="an" fill="#3ca466" stroke="#3ca466"><tspan font-style="italic">k</tspan><tspan class="sub" dy="1.6">obs</tspan><tspan dy="-1.6"> = 0.0205 min</tspan><tspan class="sup" dy="-3.4">&#8722;1</tspan></text></g>
<g transform="translate(324.1,97.40) scale(1.0,1.0)"><text x="0" y="0" class="an" fill="#3ca466" stroke="#3ca466">R<tspan class="sup2" dy="-3.6">2</tspan><tspan dy="3.6"> = 0.9212</tspan></text></g>
<g transform="translate(322.6,213.80) scale(1.0,1.0)"><text x="0" y="0" class="an" fill="#484848" stroke="#484848"><tspan font-style="italic">k</tspan><tspan class="sub" dy="1.6">obs</tspan><tspan dy="-1.6"> = 00259 min</tspan><tspan class="sup" dy="-3.4">&#8722;1</tspan></text></g>
<g transform="translate(322.6,224.80) scale(1.0,1.0)"><text x="0" y="0" class="an" fill="#484848" stroke="#484848">R<tspan class="sup2" dy="-3.6">2</tspan><tspan dy="3.6"> = 0.9840</tspan></text></g>
<g transform="translate(322.6,235.80) scale(1.0,1.0)"><text x="0" y="0" class="an" fill="#ec4450" stroke="#ec4450"><tspan font-style="italic">k</tspan><tspan class="sub" dy="1.6">obs</tspan><tspan dy="-1.6"> = 0.0265 min</tspan><tspan class="sup" dy="-3.4">&#8722;1</tspan></text></g>
<g transform="translate(322.6,246.80) scale(1.0,1.0)"><text x="0" y="0" class="an" fill="#ec4450" stroke="#ec4450">R<tspan class="sup2" dy="-3.6">2</tspan><tspan dy="3.6"> = 0.9656</tspan></text></g>
<g transform="translate(322.6,257.80) scale(1.0,1.0)"><text x="0" y="0" class="an" fill="#2c6ae0" stroke="#2c6ae0"><tspan font-style="italic">k</tspan><tspan class="sub" dy="1.6">obs</tspan><tspan dy="-1.6"> = 0.0329 min</tspan><tspan class="sup" dy="-3.4">&#8722;1</tspan></text></g>
<g transform="translate(322.6,268.80) scale(1.0,1.0)"><text x="0" y="0" class="an" fill="#2c6ae0" stroke="#2c6ae0">R<tspan class="sup2" dy="-3.6">2</tspan><tspan dy="3.6"> = 0.9082</tspan></text></g>
<text x="34.6" y="161.0" class="pl">(a)</text>
<text x="510.8" y="161.2" class="pl">(b)</text>
<text x="34.4" y="355.8" class="pl">(c)</text>
<text x="510.0" y="355.4" class="pl">(d)</text>
<text x="143.0" y="193.7" class="at" text-anchor="middle">T ime ( min )</text>
<text x="429.6" y="193.7" class="at" text-anchor="middle">T ime ( min )</text>
<text x="143.0" y="388.9" class="at" text-anchor="middle">T ime ( min )</text>
<text x="429.6" y="388.9" class="at" text-anchor="middle">T ime ( min )</text>
<text transform="translate(9.5,89.0) rotate(-90)" class="at yt" text-anchor="middle">C<tspan class="sub" dy="1.5">t</tspan><tspan dy="-1.5">/C</tspan><tspan class="sub" dy="1.5">0</tspan></text>
<text transform="translate(9.8,284.0) rotate(-90)" class="at yt" text-anchor="middle">C<tspan class="sub" dy="1.5">t</tspan><tspan dy="-1.5">/C</tspan><tspan class="sub" dy="1.5">0</tspan></text>
<text transform="translate(296.0,90.3) rotate(-90)" class="at yt" text-anchor="middle">&#8722;ln ( C<tspan class="sub" dy="1.5">t</tspan><tspan dy="-1.5">/C</tspan><tspan class="sub" dy="1.5">0</tspan><tspan dy="-1.5"> )</tspan></text>
<text transform="translate(296.0,284.8) rotate(-90)" class="at yt" text-anchor="middle">&#8722;ln ( C<tspan class="sub" dy="1.5">t</tspan><tspan dy="-1.5">/C</tspan><tspan class="sub" dy="1.5">0</tspan><tspan dy="-1.5"> )</tspan></text>
</svg>
</body></html>
